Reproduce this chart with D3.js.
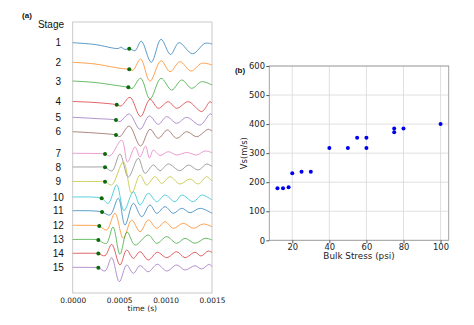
<!DOCTYPE html>
<html>
<head>
<meta charset="utf-8">
<script src="https://cdn.jsdelivr.net/npm/d3@7"></script>
<style>
  body { margin: 0; background: #fff; }
  svg { display: block; }
</style>
</head>
<body>
<svg id="fig" width="474" height="325"></svg>
<script>
// ---- (a) waveforms recorded at each loading stage ----
const stages = ["1","2","3","4","5","6","7","8","9","10","11","12","13","14","15"];
// vertical offset of each trace (downward, in trace units)
const stageOffsets = [20.7, 40.3, 59, 79.5, 95.3, 109.7, 131.3, 145, 159.5, 175, 188.7, 203.3, 217.5, 231.3, 245.3];
// first-arrival picks: time (µs) and amplitude on the trace
const pickTimes = [609, 609, 599, 474, 466, 466, 348, 348, 348, 312, 316, 286, 276, 276, 276];
const pickAmps  = [-6, -7, -6.3, -3.2, -2.7, -3.3, -0.7, -0.3, -0.2, -1.3, -1.3, -0.7, -0.5, -0.2, -0.4];
const timeTicks = [0, 0.0005, 0.0010, 0.0015];

// each waveform: [time (µs), amplitude (up positive)]
const wave1  = [[0,0],[240,-1.8],[488,-5.8],[520,-4.5],[563,-6.8],[609,-6],[671,-8],[739,1.5],[846,-19.6],[951,3.4],[1053,-11.8],[1145,0],[1290,-11],[1425,-0.6],[1500,-1.3]];
const wave2  = [[0,0],[240,-1.7],[509,-6],[609,-7],[649,-8],[732,3.3],[832,-19],[951,1.6],[1048,-9.4],[1155,0.6],[1274,-8.7],[1389,-1],[1500,-2.7]];
const wave3  = [[0,0],[240,-1.5],[509,-5],[599,-6.3],[639,-7.5],[732,2.7],[832,-18],[951,2.7],[1066,-9],[1174,1],[1281,-7.3],[1389,-0.7],[1500,-4]];
const wave4  = [[0,0],[240,-1],[474,-3.2],[520,-4.5],[617,4.2],[730,-15],[832,2.2],[922,-6.8],[1029,-0.2],[1120,-6.8],[1245,-0.2],[1389,-10],[1478,-0.2],[1500,-1.5]];
const wave5  = [[0,0],[240,-1.2],[466,-2.7],[509,-4.2],[609,3.3],[725,-12],[825,1.3],[922,-7],[1012,0.6],[1120,-6],[1228,0],[1371,-7.7],[1478,3.3],[1500,2.5]];
const wave6  = [[0,0],[240,-1.3],[466,-3.3],[509,-4.8],[609,5.7],[730,-14.3],[832,2.4],[922,-6.6],[1019,1.7],[1120,-6.6],[1228,0],[1335,-5],[1460,2.4],[1500,0.5]];
const wave7  = [[0,0],[240,-0.2],[348,-0.7],[402,-2.7],[528,13.3],[590,-8.7],[671,6.3],[725,-3.7],[784,7.3],[827,-4.7],[868,3.3],[940,-2.2],[1029,1.6],[1120,-1.7],[1228,0.8],[1335,-1.7],[1425,2.3],[1500,0.6]];
const wave8  = [[0,0],[240,0],[348,-0.3],[423,-4],[509,13],[599,-10],[706,8.7],[779,-6.3],[868,2],[940,-3.7],[1029,3],[1155,-3.7],[1245,2],[1352,-3],[1443,3],[1500,0.5]];
const wave9  = [[0,0],[240,0],[348,-0.2],[420,-3.5],[545,19.5],[635,-11.8],[725,6.5],[797,-3.5],[886,4.8],[958,-1.8],[1048,4.8],[1155,-2.5],[1263,2.5],[1352,-2.5],[1443,4.8],[1500,0.5]];
const wave10 = [[0,0],[240,-0.2],[312,-1.3],[383,-6.3],[474,12],[552,-13.7],[653,5.3],[725,-8],[814,3.7],[905,-4.7],[994,2],[1102,-4.7],[1174,2],[1299,-4.7],[1389,2],[1500,-3]];
const wave11 = [[0,0],[240,-0.3],[316,-1.3],[402,-4.3],[491,12.4],[563,-14.3],[653,7.4],[743,-6],[832,5.7],[905,-2.6],[994,4],[1083,-2.6],[1174,2.4],[1263,-2],[1371,2.4],[1500,-2.6]];
const wave12 = [[0,0],[240,-0.2],[286,-0.7],[366,-4.7],[455,12],[545,-13],[635,5.3],[725,-6.4],[814,5.3],[905,-3],[994,3.6],[1083,-3],[1191,2],[1299,-3],[1406,1.3],[1500,-1.4]];
const wave13 = [[0,0],[240,0],[276,-0.5],[362,-4],[434,12.5],[509,-14.8],[585,7.5],[671,-5.5],[814,4.5],[905,-3.8],[1012,2.8],[1120,-3.8],[1209,1.2],[1317,-3.8],[1425,1.2],[1500,-0.5]];
const wave14 = [[0,0],[240,0],[276,-0.2],[348,-2.4],[420,9],[509,-11.7],[581,3.3],[653,-5],[725,1.6],[814,-6.7],[911,1],[1012,-4.4],[1120,1.6],[1209,-4.4],[1317,1],[1382,-2.7],[1460,2.3],[1500,0.8]];
const wave15 = [[0,0],[240,-0.2],[276,-0.4],[348,-3.7],[420,9.6],[502,-14.4],[581,2.3],[653,-6],[725,1.6],[814,-4.4],[911,3],[1012,-3.7],[1120,2.3],[1209,-2.7],[1317,1.6],[1389,-1.7],[1471,3],[1500,0.6]];
const waves = [wave1, wave2, wave3, wave4, wave5, wave6, wave7, wave8, wave9, wave10, wave11, wave12, wave13, wave14, wave15];

// ---- (b) shear-wave velocity versus bulk stress ----
const bulkStress = [12, 15, 18, 20, 25, 30, 40, 50, 55, 60, 60, 75, 75, 80, 100];
const vsValues   = [179, 179, 183, 231, 236, 236, 318, 318, 353, 353, 318, 372, 385, 385, 400];
const stressTicks = [20, 40, 60, 80, 100];
const vsTicks = [0, 100, 200, 300, 400, 500, 600];

const svg = d3.select("#fig");
const tickFont = "DejaVu Sans, sans-serif";
const labelFont = "Liberation Sans, Arial, sans-serif";

// ================= panel (a) =================
const A = { left: 72.7, right: 212, top: 22, bottom: 293 };
const xA = d3.scaleLinear().domain([0, 0.0015]).range([A.left, A.right]);
const yA = d3.scaleLinear().domain([0, 271]).range([A.top, A.bottom]);
const palette = d3.schemeCategory10;

const gA = svg.append("g");
gA.append("rect")
  .attr("x", A.left).attr("y", A.top)
  .attr("width", A.right - A.left).attr("height", A.bottom - A.top)
  .attr("fill", "none").attr("stroke", "#c4c4c4").attr("stroke-width", 0.9);

const traceLine = off => d3.line()
  .x(d => xA(d[0] * 1e-6))
  .y(d => yA(off - d[1]))
  .curve(d3.curveCatmullRom.alpha(0.5));

waves.forEach((w, i) => {
  gA.append("path")
    .datum(w)
    .attr("d", traceLine(stageOffsets[i]))
    .attr("fill", "none")
    .attr("stroke", palette[i % 10])
    .attr("stroke-width", 0.9)
    .attr("stroke-opacity", 0.8);
});

gA.selectAll("circle.pick")
  .data(stages)
  .join("circle")
  .attr("class", "pick")
  .attr("cx", (d, i) => xA(pickTimes[i] * 1e-6))
  .attr("cy", (d, i) => yA(stageOffsets[i] - pickAmps[i]))
  .attr("r", 2)
  .attr("fill", "#0a6a0a");

gA.selectAll("text.stage")
  .data(stages)
  .join("text")
  .attr("class", "stage")
  .attr("x", 58.3)
  .attr("y", (d, i) => yA(stageOffsets[i]) + 3.6)
  .attr("text-anchor", "middle")
  .attr("font-family", labelFont)
  .attr("font-size", 10)
  .attr("fill", "#111")
  .text(d => d);

gA.append("text")
  .attr("x", 51).attr("y", 27.6)
  .attr("text-anchor", "middle")
  .attr("font-family", labelFont).attr("font-size", 10).attr("fill", "#111")
  .text("Stage");

gA.append("text")
  .attr("x", 27).attr("y", 17.8)
  .attr("text-anchor", "middle")
  .attr("font-family", labelFont).attr("font-size", 8).attr("font-weight", "bold").attr("fill", "#111")
  .text("(a)");

const axA = gA.append("g")
  .attr("transform", `translate(0,${A.bottom})`)
  .call(d3.axisBottom(xA).tickValues(timeTicks).tickFormat(d3.format(".4f")).tickSize(0).tickPadding(4.4));
axA.select(".domain").remove();
axA.selectAll("text").attr("font-family", tickFont).attr("font-size", 7.4).attr("fill", "#222");

gA.append("text")
  .attr("x", (A.left + A.right) / 2).attr("y", 310.7)
  .attr("text-anchor", "middle")
  .attr("font-family", tickFont).attr("font-size", 7.6).attr("fill", "#222")
  .text("time (s)");

// ================= panel (b) =================
const B = { left: 269.3, right: 448.7, top: 66, bottom: 240.3 };
const xB = d3.scaleLinear().domain([7.6, 104.4]).range([B.left, B.right]);
const yB = d3.scaleLinear().domain([0, 600]).range([B.bottom, B.top]);

const gB = svg.append("g");

gB.selectAll("line.vgrid")
  .data(stressTicks)
  .join("line")
  .attr("class", "vgrid")
  .attr("x1", d => xB(d)).attr("x2", d => xB(d))
  .attr("y1", B.top).attr("y2", B.bottom)
  .attr("stroke", "#dcdcdc").attr("stroke-width", 0.9);

gB.selectAll("line.hgrid")
  .data(vsTicks)
  .join("line")
  .attr("class", "hgrid")
  .attr("x1", B.left).attr("x2", B.right)
  .attr("y1", d => yB(d)).attr("y2", d => yB(d))
  .attr("stroke", "#dcdcdc").attr("stroke-width", 0.9);

gB.append("rect")
  .attr("x", B.left).attr("y", B.top)
  .attr("width", B.right - B.left).attr("height", B.bottom - B.top)
  .attr("fill", "none").attr("stroke", "#9a9a9a").attr("stroke-width", 0.9);

const axBx = gB.append("g")
  .attr("transform", `translate(0,${B.bottom})`)
  .call(d3.axisBottom(xB).tickValues(stressTicks).tickSize(3).tickPadding(0.5));
axBx.select(".domain").remove();
axBx.selectAll("line").attr("stroke", "#555");
axBx.selectAll("text").attr("font-family", tickFont).attr("font-size", 8.4).attr("fill", "#222");

const axBy = gB.append("g")
  .attr("transform", `translate(${B.left},0)`)
  .call(d3.axisLeft(yB).tickValues(vsTicks).tickSize(3).tickPadding(1.3));
axBy.select(".domain").remove();
axBy.selectAll("line").attr("stroke", "#555");
axBy.selectAll("text").attr("font-family", tickFont).attr("font-size", 8.4).attr("fill", "#222");

gB.selectAll("circle.pt")
  .data(bulkStress)
  .join("circle")
  .attr("class", "pt")
  .attr("cx", d => xB(d))
  .attr("cy", (d, i) => yB(vsValues[i]))
  .attr("r", 2)
  .attr("fill", "#0000ee");

gB.append("text")
  .attr("x", (B.left + B.right) / 2).attr("y", 259)
  .attr("text-anchor", "middle")
  .attr("font-family", tickFont).attr("font-size", 8.8).attr("fill", "#222")
  .text("Bulk Stress (psi)");

gB.append("text")
  .attr("transform", `translate(247,${(B.top + B.bottom) / 2}) rotate(-90)`)
  .attr("text-anchor", "middle")
  .attr("font-family", tickFont).attr("font-size", 8.4).attr("fill", "#222")
  .text("Vs(m/s)");

gB.append("text")
  .attr("x", 240).attr("y", 72.8)
  .attr("text-anchor", "middle")
  .attr("font-family", labelFont).attr("font-size", 8).attr("font-weight", "bold").attr("fill", "#111")
  .text("(b)");
</script>
</body>
</html>
